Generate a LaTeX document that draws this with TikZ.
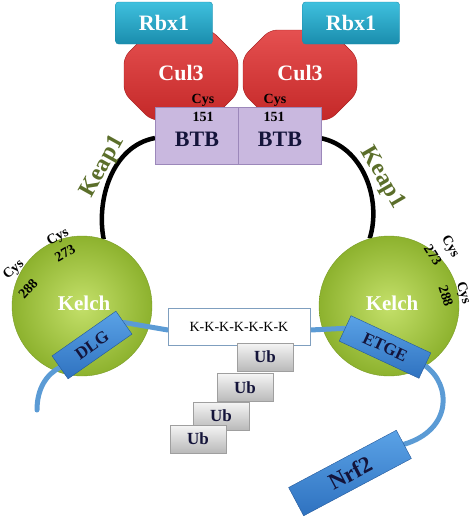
\documentclass[tikz,border=0pt]{standalone}
\usepackage{fontspec}
\setmainfont{Liberation Serif}
\definecolor{rbxtop}{HTML}{3FC0DE}
\definecolor{rbxbot}{HTML}{1A8DAD}
\definecolor{cultop}{HTML}{E55050}
\definecolor{culbot}{HTML}{C42828}
\definecolor{culdark}{HTML}{A82020}
\definecolor{btbfill}{HTML}{C9B8DF}
\definecolor{btbdark}{HTML}{9C88BA}
\definecolor{kin}{HTML}{C4E06A}
\definecolor{kout}{HTML}{8DB22E}
\definecolor{kdark}{HTML}{7A9C26}
\definecolor{keapc}{HTML}{5B6E2A}
\definecolor{bluetop}{HTML}{5AA2E6}
\definecolor{bluebot}{HTML}{2F72C0}
\definecolor{bluedark}{HTML}{23589A}
\definecolor{bline}{HTML}{5B9BD5}
\definecolor{navy}{HTML}{14143A}
\definecolor{kbord}{HTML}{7F9FBF}
\pgfdeclarelayer{back}
\pgfdeclarelayer{bg}
\pgfdeclarelayer{mid}
\pgfsetlayers{back,bg,mid,main}
\tikzset{
  rbxbox/.style={rectangle, rounded corners=3pt, minimum width=97pt, minimum height=42pt,
    top color=rbxtop, bottom color=rbxbot, draw=rbxbot, text=white,
    font=\fontsize{22}{22}\selectfont\bfseries},
  btbbox/.style={rectangle, minimum width=83pt, minimum height=57pt, fill=btbfill, draw=btbdark},
  btbtext/.style={text=navy, font=\fontsize{22}{22}\selectfont\bfseries},
  cystext/.style={text=black, font=\fontsize{14}{14}\selectfont\bfseries, inner sep=0pt},
  kelchball/.style={circle, minimum size=140pt, inner sep=0pt, shading=radial,
    inner color=kin, outer color=kout, draw=kdark},
  kelchtext/.style={text=white, font=\fontsize{21}{21}\selectfont\bfseries},
  keaptext/.style={text=keapc, font=\fontsize{24}{24}\selectfont\bfseries},
  motif/.style={rectangle, minimum height=28pt, top color=bluetop, bottom color=bluebot,
    draw=bluedark, text=navy, font=\fontsize{17}{17}\selectfont\bfseries},
  ubbox/.style={rectangle, minimum width=56pt, minimum height=28pt, top color=gray!8,
    bottom color=gray!55, draw=gray!75, text=navy, font=\fontsize{17}{17}\selectfont\bfseries},
  chain/.style={bline, line width=5pt, line cap=round},
  keapline/.style={black, line width=4.5pt},
  culshape/.style={top color=cultop, bottom color=culbot, draw=culdark, rounded corners=7pt},
}
\begin{document}
\begin{tikzpicture}[x=1pt,y=-1pt]
\useasboundingbox (0,0) rectangle (474,530);

% Kelch domains and Keap1 linker
\begin{pgfonlayer}{bg}
\node[kelchball] (kL) at (82,306) {};
\node[kelchball] (kR) at (389,306) {};
\end{pgfonlayer}
\coordinate (arcLtop) at (155,138);
\coordinate (arcRtop) at (320,138);
\begin{pgfonlayer}{back}
\draw[keapline] (arcLtop) .. controls (112,146) and (96,200) .. (kL.72);
\draw[keapline] (arcRtop) .. controls (363,146) and (382,200) .. (kR.106);
\end{pgfonlayer}
\node[kelchtext] (kelchL) at (84,303) {Kelch};
\node[kelchtext] (kelchR) at (392,303) {Kelch};

% Cul3
\begin{scope}[shift={(181,75)}]
\path[culshape] (-30,-45) -- (30,-45) -- (57,-18) -- (57,18) -- (30,45) -- (-30,45) -- (-57,18) -- (-57,-18) -- cycle;
\end{scope}
\begin{scope}[shift={(300,75)}]
\path[culshape] (-30,-45) -- (30,-45) -- (57,-18) -- (57,18) -- (30,45) -- (-30,45) -- (-57,18) -- (-57,-18) -- cycle;
\end{scope}
\node[text=white, font=\fontsize{22}{22}\selectfont\bfseries] (culL) at (181,73) {Cul3};
\node[text=white, font=\fontsize{22}{22}\selectfont\bfseries] (culR) at (300,73) {Cul3};

% Rbx1
\node[rbxbox] (rbxL) at (164,23) {Rbx1};
\node[rbxbox] (rbxR) at (351,23) {Rbx1};

% BTB
\node[btbbox] (btbL) at (196.5,135.5) {};
\node[btbbox] (btbR) at (279.5,135.5) {};
\node[btbtext] (btbLt) at (197,139) {BTB};
\node[btbtext] (btbRt) at (280,139) {BTB};
\node[cystext] (cysL) at (203,100) {Cys};
\node[cystext] (n151L) at (203,117) {151};
\node[cystext] (cysR) at (275,100) {Cys};
\node[cystext] (n151R) at (274,117) {151};

% Keap1 labels
\node[keaptext, rotate=61] (keapL) at (103,167) {Keap1};
\node[keaptext, rotate=-60] (keapR) at (382,178) {Keap1};

% Cys residues on Kelch
\node[cystext, rotate=28] (c273L) at (58,237) {Cys};
\node[cystext, rotate=30] (n273L) at (65,253) {273};
\node[cystext, rotate=42] (c288L) at (14,270) {Cys};
\node[cystext, rotate=48] (n288L) at (28,289) {288};
\node[cystext, rotate=-60] (c273R) at (450,247) {Cys};
\node[cystext, rotate=-57] (n273R) at (433,255) {273};
\node[cystext, rotate=-74] (c288R) at (463,293) {Cys};
\node[cystext, rotate=-72] (n288R) at (446,296) {288};

% Nrf2 chain
\node[motif, minimum width=78pt, rotate=35] (dlg) at (92,345) {DLG};
\node[motif, minimum width=88pt, rotate=-25] (etge) at (385,347) {ETGE};
\node[motif, minimum width=122pt, minimum height=32pt, rotate=28, font=\fontsize{23}{23}\selectfont\bfseries] (nrf) at (350,473) {Nrf2};
\node[rectangle, minimum width=142pt, minimum height=37pt, fill=white, draw=kbord,
  font=\fontsize{14}{14}\selectfont] (kbox) at (239,326.5) {K-K-K-K-K-K-K};
\coordinate (tail) at (37,410);
\begin{pgfonlayer}{mid}
\draw[chain] (tail) .. controls (37,388) and (47,374) .. (dlg.west);
\draw[chain] (dlg.east) -- (kbox.west |- 0,330);
\draw[chain] (kbox.east |- 0,330) -- (etge.west);
\draw[chain] (etge.east) .. controls (452,385) and (452,430) .. (nrf.east);
\end{pgfonlayer}

% Ubiquitin chain
\node[ubbox] (ub1) at (265,357) {Ub};
\node[ubbox] (ub2) at (245,387.5) {Ub};
\node[ubbox] (ub3) at (221,416) {Ub};
\node[ubbox] (ub4) at (198,439) {Ub};
\end{tikzpicture}
\end{document}
